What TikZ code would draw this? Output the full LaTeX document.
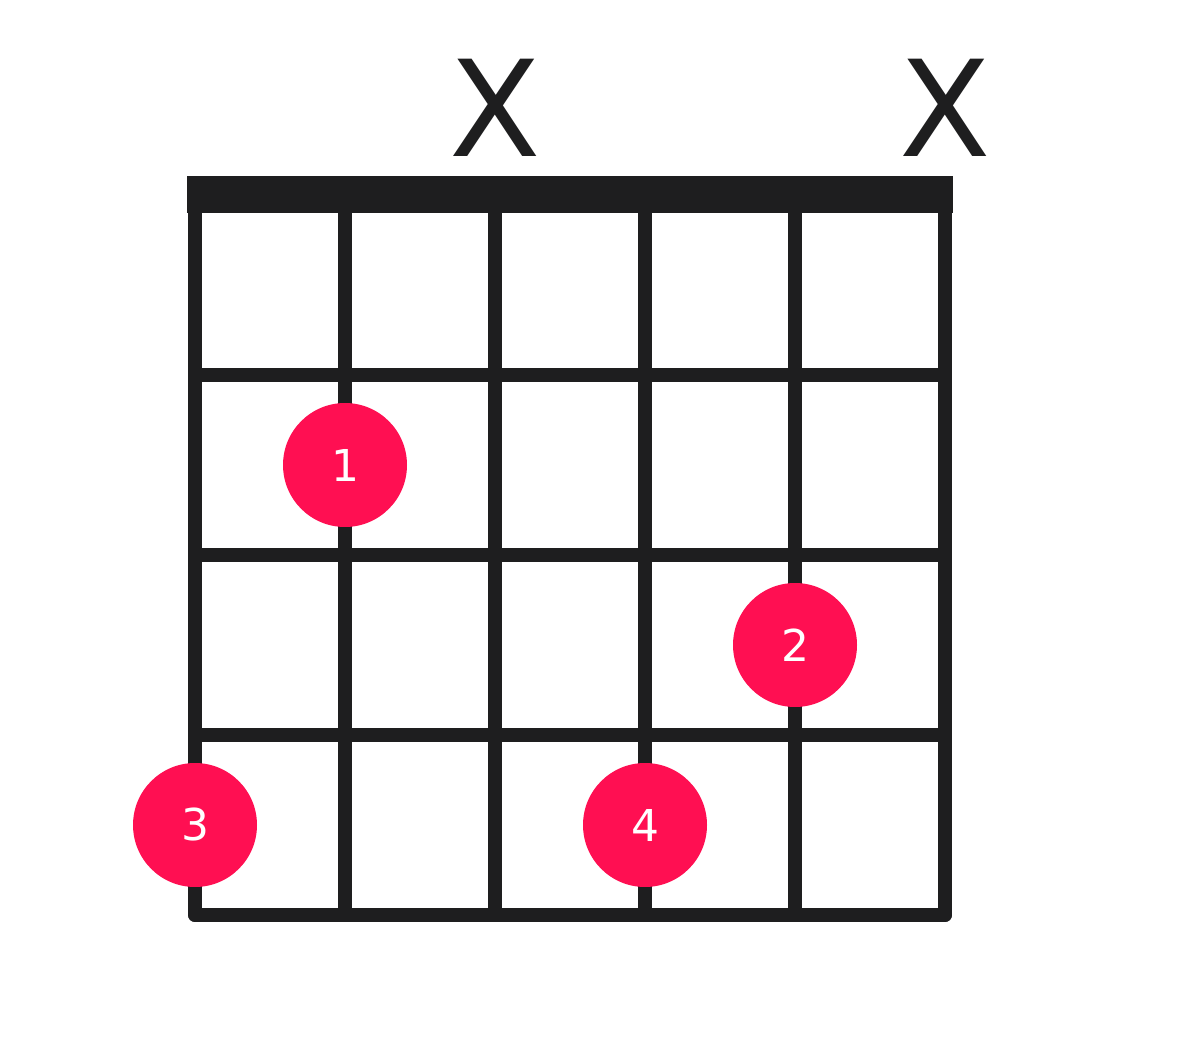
\documentclass[tikz,border=0pt]{standalone}
\usepackage{fontspec}
\setmainfont{DejaVu Sans}
\definecolor{ink}{HTML}{1E1E1F}
\definecolor{dot}{HTML}{FF0F52}
\begin{document}
\begin{tikzpicture}[x=0.02cm,y=-0.02cm,
  gridline/.style={draw=ink,line width=7.9pt,line cap=round},
  finger/.style={circle,fill=dot,minimum size=124*0.02cm,inner sep=0pt,text=white,font=\fontsize{25}{25}\selectfont},
  mute/.style={text=ink,font=\fontsize{76}{76}\selectfont,inner sep=0pt}]
\useasboundingbox (0,0) rectangle (1200,1050);
\foreach \x in {195,345,495,645,795,945} \draw[gridline] (\x,200) -- (\x,915);
\foreach \y in {375,555,735,915} \draw[gridline] (195,\y) -- (945,\y);
\fill[ink] (187,176) rectangle (953,213);
\node[mute] (m1) at (495,108) {X};
\node[mute] (m2) at (945,108) {X};
\node[finger] (f1) at (345,465) {1};
\node[finger] (f2) at (795,645) {2};
\node[finger] (f3) at (195,825) {3};
\node[finger] (f4) at (645,825) {4};
\end{tikzpicture}
\end{document}
